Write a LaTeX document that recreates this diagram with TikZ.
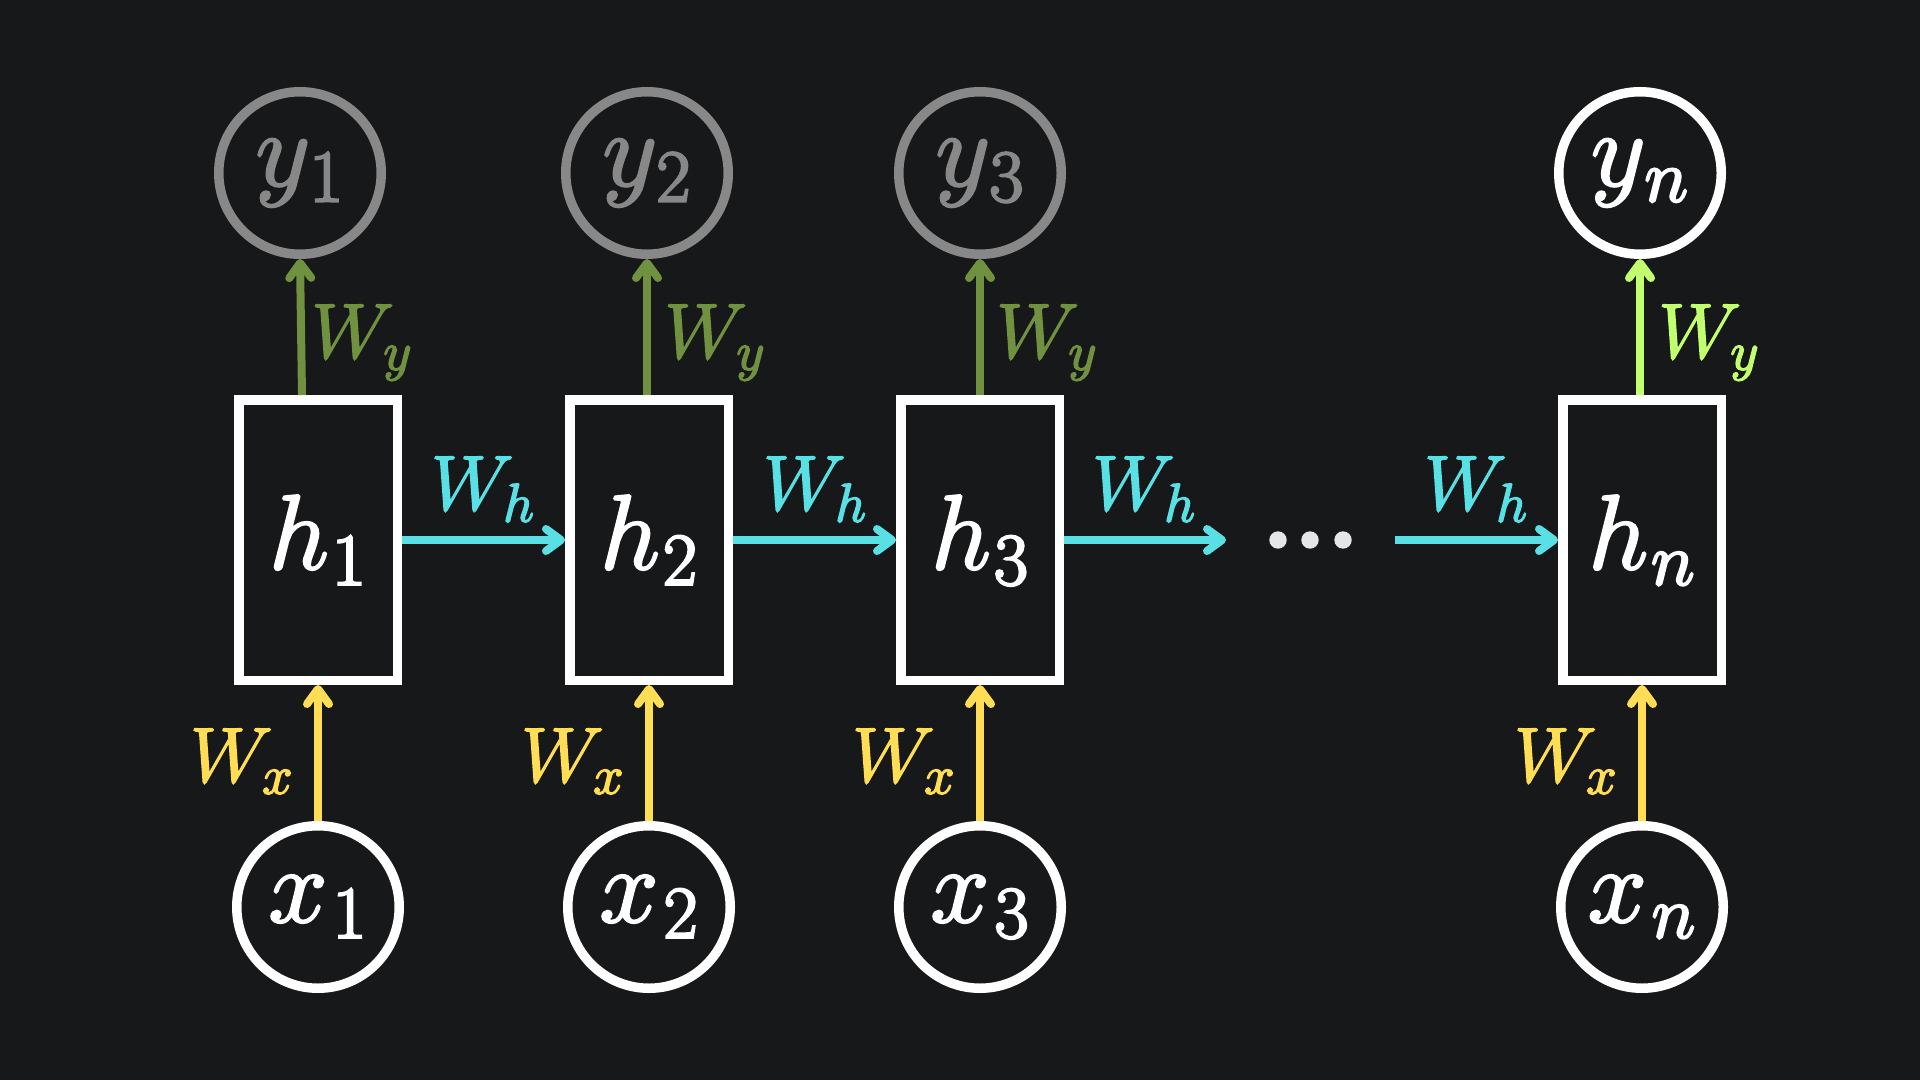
\RequirePackage{fix-cm}
\documentclass[tikz,border=0pt]{standalone}
\usetikzlibrary{arrows.meta}
\definecolor{bgc}{RGB}{23,24,26}
\definecolor{grayc}{RGB}{136,136,136}
\definecolor{dgreen}{RGB}{111,145,64}
\definecolor{lgreen}{RGB}{194,255,110}
\definecolor{cyanc}{RGB}{88,224,229}
\definecolor{yellowc}{RGB}{255,221,85}
\definecolor{dotc}{RGB}{230,230,230}
\newcommand{\strk}[2]{\special{pdf:literal direct 2 Tr #1 w}#2\special{pdf:literal direct 0 Tr}}
\begin{document}
\begin{tikzpicture}[x=0.5pt,y=-0.5pt,
  bigfont/.style={font=\fontsize{53}{60}\selectfont},
  wfont/.style={font=\fontsize{39}{45}\selectfont},
  hbox/.style={draw=white, line width=4.75pt, rectangle, minimum width=79.25pt, minimum height=140.25pt, inner sep=0pt, bigfont, text=white},
  ycirc/.style={draw=#1, text=#1, line width=4.75pt, circle, minimum size=81.25pt, inner sep=0pt, bigfont},
  xcirc/.style={draw=white, text=white, line width=4.75pt, circle, minimum size=81.25pt, inner sep=0pt, bigfont},
  arr/.style={draw=#1, line width=4pt, -{Straight Barb[length=7.5pt, width=11pt, round]}},
  wlab/.style={text=#1, inner sep=0pt, wfont},
  dotn/.style={circle, fill=dotc, minimum size=8.7pt, inner sep=0pt}
]
\fill[bgc] (0,0) rectangle (1920,1080);
\useasboundingbox (0,0) rectangle (1920,1080);

% hidden state boxes
\node[hbox] (h1) at (318,540) {\strk{1.2}{$h_{\kern1.5pt 1}$}};
\node[hbox] (h2) at (649,540) {\strk{1.2}{$h_{\kern1.5pt 2}$}};
\node[hbox] (h3) at (980,540) {\strk{1.2}{$h_{\kern1.5pt 3}$}};
\node[hbox] (hn) at (1642,540) {\strk{1.2}{$h_{\kern1.5pt n}$}};

% outputs
\node[ycirc=grayc] (y1) at (300,173) {\strk{1.2}{$y_{\kern1.5pt 1}$}};
\node[ycirc=grayc] (y2) at (647,173) {\strk{1.2}{$y_{\kern1.5pt 2}$}};
\node[ycirc=grayc] (y3) at (980,173) {\strk{1.2}{$y_{\kern1.5pt 3}$}};
\node[ycirc=white] (yn) at (1640,173) {\strk{1.2}{$y_{\kern1.5pt n}$}};

% inputs
\node[xcirc] (x1) at (318,907) {\strk{1.2}{$x_{\kern2.5pt 1}$}};
\node[xcirc] (x2) at (649,907) {\strk{1.2}{$x_{\kern2.5pt 2}$}};
\node[xcirc] (x3) at (980,907) {\strk{1.2}{$x_{\kern2.5pt 3}$}};
\node[xcirc] (xn) at (1642,907) {\strk{1.2}{$x_{\kern2.5pt n}$}};

% dots
\node[dotn] (d1) at (1278,540) {};
\node[dotn] (d2) at (1310,540) {};
\node[dotn] (d3) at (1343,540) {};

\coordinate (e3) at (1226,540);
\coordinate (s4) at (1395,540);

% input arrows
\draw[arr=yellowc] (x1) -- (h1);
\draw[arr=yellowc] (x2) -- (h2);
\draw[arr=yellowc] (x3) -- (h3);
\draw[arr=yellowc] (xn) -- (hn);

% output arrows
\draw[arr=dgreen] ([xshift=1pt]h1.north -| y1.south) -- (y1.south);
\draw[arr=dgreen] (h2.north -| y2.south) -- (y2.south);
\draw[arr=dgreen] (h3.north -| y3.south) -- (y3.south);
\draw[arr=lgreen] (hn.north -| yn.south) -- (yn.south);

% recurrent arrows
\draw[arr=cyanc] (h1) -- (h2);
\draw[arr=cyanc] (h2) -- (h3);
\draw[arr=cyanc] (h3.east) -- (e3);
\draw[arr=cyanc] (s4) -- (hn.west);

% labels
\node[wlab=yellowc, anchor=base east] (wx1) at (294,782) {\strk{0.8}{$W_x$}};
\node[wlab=yellowc, anchor=base east] (wx2) at (625,782) {\strk{0.8}{$W_x$}};
\node[wlab=yellowc, anchor=base east] (wx3) at (956,782) {\strk{0.8}{$W_x$}};
\node[wlab=yellowc, anchor=base east] (wxn) at (1618,782) {\strk{0.8}{$W_x$}};

\node[wlab=dgreen, anchor=base west] (wy1) at (311,358) {\strk{0.8}{$W_y$}};
\node[wlab=dgreen, anchor=base west] (wy2) at (664,358) {\strk{0.8}{$W_y$}};
\node[wlab=dgreen, anchor=base west] (wy3) at (996,358) {\strk{0.8}{$W_y$}};
\node[wlab=lgreen, anchor=base west] (wyn) at (1658,358) {\strk{0.8}{$W_y$}};

\node[wlab=cyanc, anchor=base] (wh1) at (483,510) {\strk{0.8}{$W_h$}};
\node[wlab=cyanc, anchor=base] (wh2) at (815,510) {\strk{0.8}{$W_h$}};
\node[wlab=cyanc, anchor=base] (wh3) at (1144,510) {\strk{0.8}{$W_h$}};
\node[wlab=cyanc, anchor=base] (wh4) at (1476,510) {\strk{0.8}{$W_h$}};
\end{tikzpicture}
\end{document}
